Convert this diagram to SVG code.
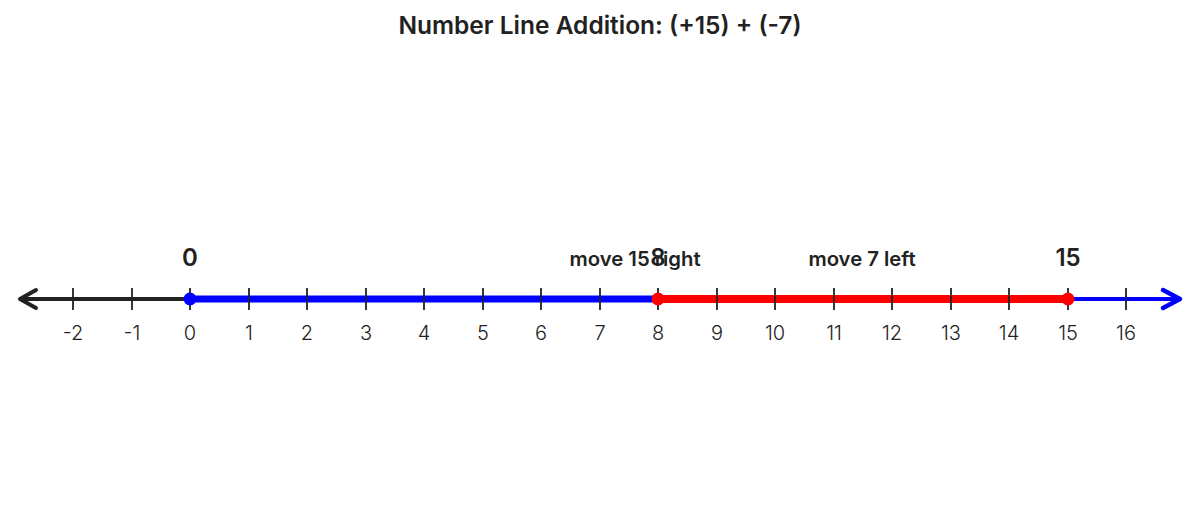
<svg xmlns="http://www.w3.org/2000/svg" width="1200" height="530" viewBox="0 0 1200 530">
<style>
.title{font-family:Inter,"Noto Sans",sans-serif;font-weight:600;font-size:24.5px;fill:#222;text-anchor:middle}
.pt{font-family:Inter,"Noto Sans",sans-serif;font-weight:600;font-size:24px;fill:#222;text-anchor:middle}
.mv{font-family:Inter,"Noto Sans",sans-serif;font-weight:600;font-size:20.3px;fill:#222;text-anchor:middle}
.tl{font-family:Inter,"Noto Sans",sans-serif;font-weight:300;font-size:20px;fill:#222;text-anchor:middle}
.tick{stroke:#222;stroke-width:1.8}
</style>
<rect width="1200" height="530" fill="#fff"/>
<text class="title" x="600" y="34">Number Line Addition: (+15) + (-7)</text>
<g id="connectors">
<line x1="22" y1="299" x2="190" y2="299" stroke="#222" stroke-width="4"/>
<polyline points="36,290 20,299 36,308" fill="none" stroke="#222" stroke-width="4" stroke-linecap="round" stroke-linejoin="round"/>
<line x1="1068" y1="299" x2="1178" y2="299" stroke="#0000ff" stroke-width="4"/>
<polyline points="1163,290 1180,299 1163,308" fill="none" stroke="#0000ff" stroke-width="4.5" stroke-linecap="round" stroke-linejoin="round"/>
<line x1="190" y1="299" x2="658" y2="299" stroke="#0000ff" stroke-width="7"/>
<line x1="658" y1="299" x2="1068" y2="299" stroke="#ff0000" stroke-width="8"/>
</g>
<g id="ticks">
<line class="tick" x1="73" y1="288" x2="73" y2="310"/>
<line class="tick" x1="132" y1="288" x2="132" y2="310"/>
<line class="tick" x1="190" y1="288" x2="190" y2="310"/>
<line class="tick" x1="249" y1="288" x2="249" y2="310"/>
<line class="tick" x1="307" y1="288" x2="307" y2="310"/>
<line class="tick" x1="366" y1="288" x2="366" y2="310"/>
<line class="tick" x1="424" y1="288" x2="424" y2="310"/>
<line class="tick" x1="483" y1="288" x2="483" y2="310"/>
<line class="tick" x1="541" y1="288" x2="541" y2="310"/>
<line class="tick" x1="600" y1="288" x2="600" y2="310"/>
<line class="tick" x1="658" y1="288" x2="658" y2="310"/>
<line class="tick" x1="717" y1="288" x2="717" y2="310"/>
<line class="tick" x1="775" y1="288" x2="775" y2="310"/>
<line class="tick" x1="834" y1="288" x2="834" y2="310"/>
<line class="tick" x1="892" y1="288" x2="892" y2="310"/>
<line class="tick" x1="951" y1="288" x2="951" y2="310"/>
<line class="tick" x1="1009" y1="288" x2="1009" y2="310"/>
<line class="tick" x1="1068" y1="288" x2="1068" y2="310"/>
<line class="tick" x1="1126" y1="288" x2="1126" y2="310"/>
</g>
<g id="tick-labels">
<text class="tl" x="73" y="340">-2</text>
<text class="tl" x="132" y="340">-1</text>
<text class="tl" x="190" y="340">0</text>
<text class="tl" x="249" y="340">1</text>
<text class="tl" x="307" y="340">2</text>
<text class="tl" x="366" y="340">3</text>
<text class="tl" x="424" y="340">4</text>
<text class="tl" x="483" y="340">5</text>
<text class="tl" x="541" y="340">6</text>
<text class="tl" x="600" y="340">7</text>
<text class="tl" x="658" y="340">8</text>
<text class="tl" x="717" y="340">9</text>
<text class="tl" x="775" y="340">10</text>
<text class="tl" x="834" y="340">11</text>
<text class="tl" x="892" y="340">12</text>
<text class="tl" x="951" y="340">13</text>
<text class="tl" x="1009" y="340">14</text>
<text class="tl" x="1068" y="340">15</text>
<text class="tl" x="1126" y="340">16</text>
</g>
<g id="start">
<circle cx="190" cy="299" r="6.5" fill="#0000ff"/>
<text class="pt" x="190" y="266">0</text>
</g>
<g id="mid">
<circle cx="1068" cy="299" r="6.5" fill="#ff0000"/>
<text class="pt" x="1068" y="266">15</text>
</g>
<g id="end">
<circle cx="658" cy="299" r="6.5" fill="#ff0000"/>
<text class="pt" x="658" y="266">8</text>
</g>
<g id="move-labels">
<text class="mv" x="635" y="266">move 15 right</text>
<text class="mv" x="862" y="266">move 7 left</text>
</g>
</svg>
